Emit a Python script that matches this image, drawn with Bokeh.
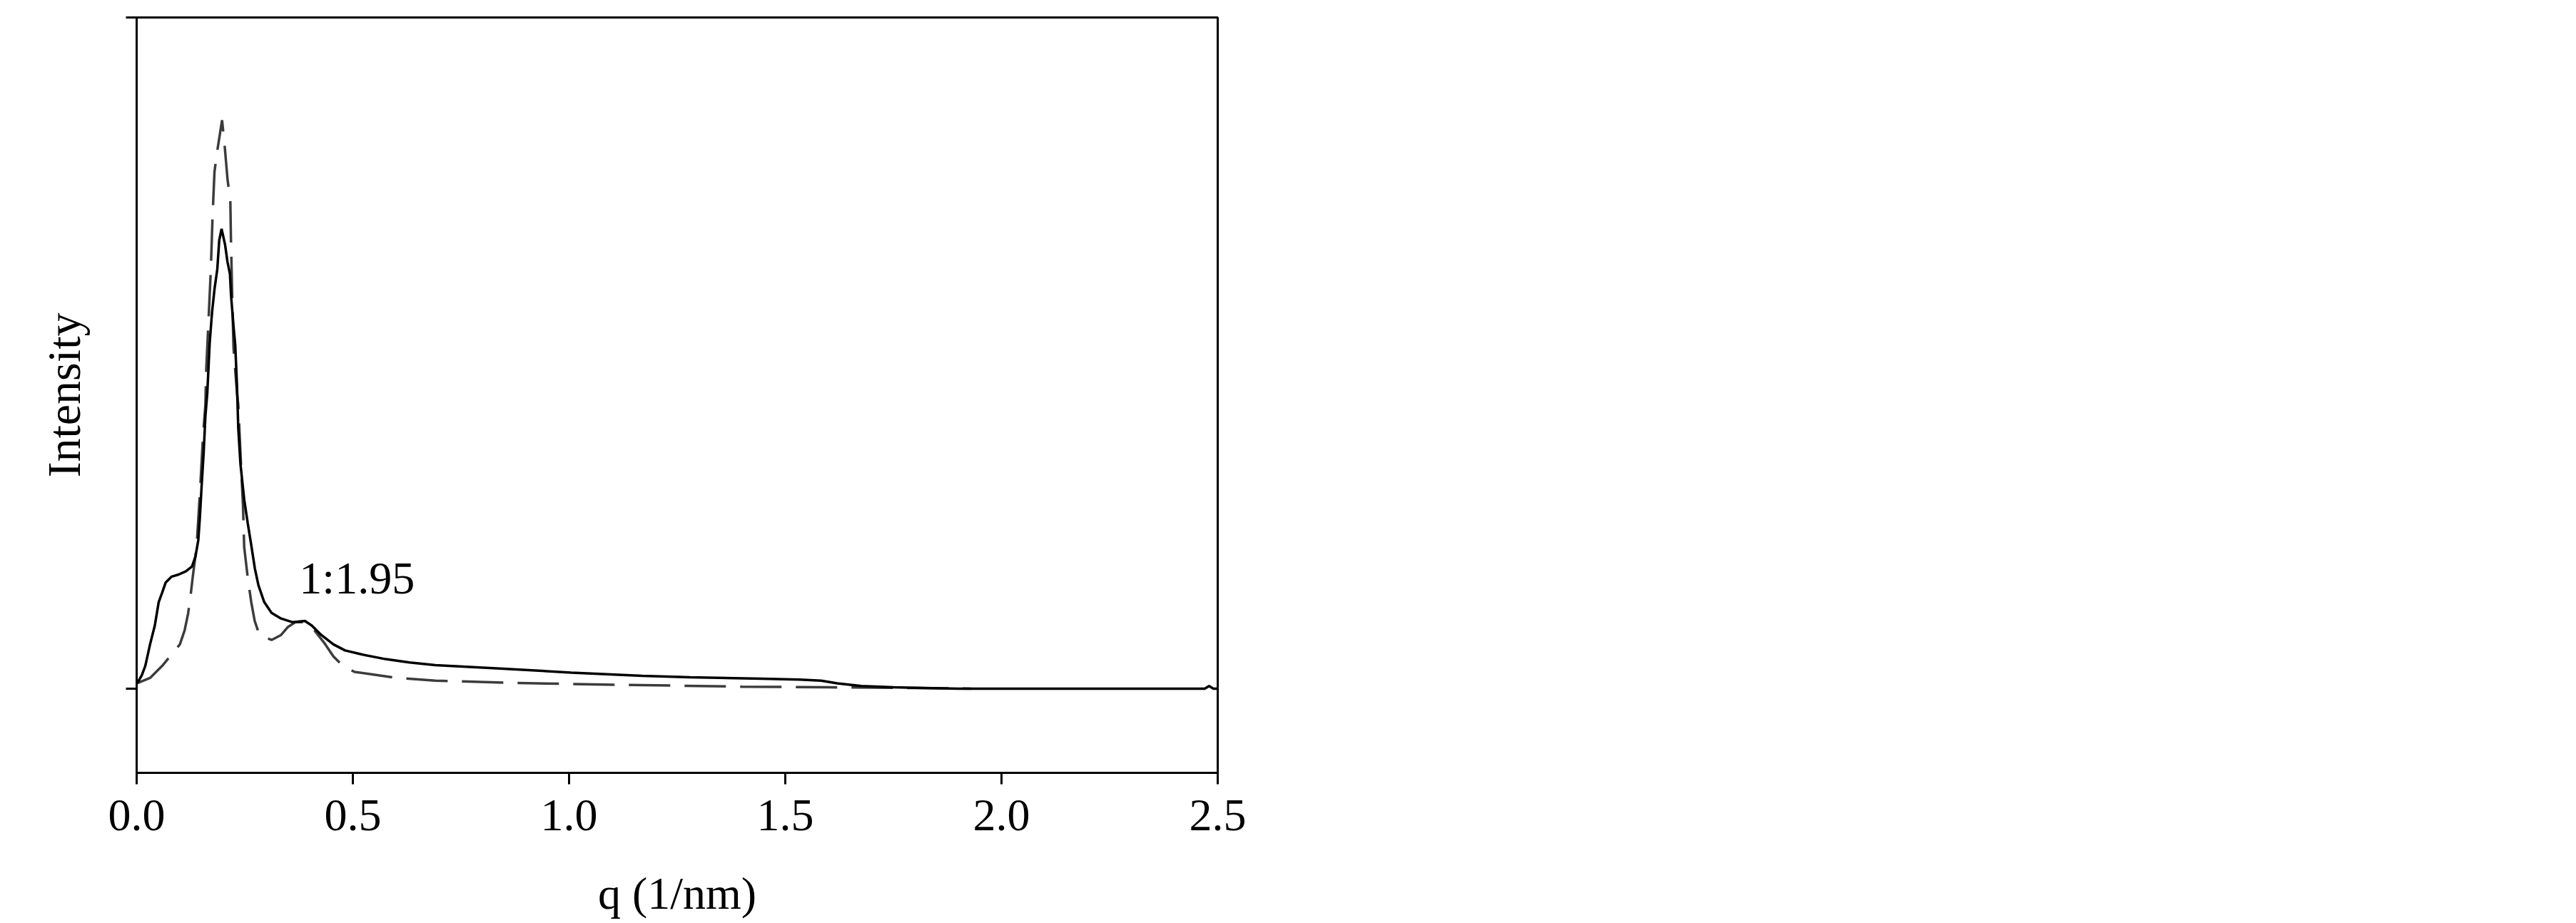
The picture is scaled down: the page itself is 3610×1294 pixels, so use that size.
from bokeh.plotting import figure
from bokeh.models import FixedTicker, PrintfTickFormatter, Range1d, ColumnDataSource
from bokeh.core.properties import value
from bokeh.embed import file_html
from bokeh.resources import INLINE

# ---- data ----
q_solid = [0.000, 0.004, 0.012, 0.020, 0.031, 0.042, 0.051, 0.059, 0.067, 0.081,
           0.097, 0.114, 0.128, 0.136, 0.1425, 0.146, 0.150, 0.155, 0.159, 0.1634,
           0.1689, 0.1744, 0.180, 0.1865, 0.191, 0.1964, 0.2046, 0.210, 0.2157, 0.2183,
           0.224, 0.228, 0.232, 0.235, 0.240, 0.2487, 0.257, 0.265, 0.2734, 0.2817,
           0.295, 0.312, 0.334, 0.361, 0.389, 0.405, 0.427, 0.455, 0.482, 0.521,
           0.576, 0.631, 0.691, 0.840, 1.005, 1.170, 1.280, 1.445, 1.533, 1.583,
           1.620, 1.676, 1.750, 1.900, 2.470, 2.480, 2.490, 2.500]
i_solid = [0.008, 0.011, 0.020, 0.034, 0.066, 0.094, 0.129, 0.143, 0.158, 0.167,
           0.170, 0.175, 0.182, 0.197, 0.221, 0.253, 0.299, 0.352, 0.406, 0.441,
           0.515, 0.561, 0.595, 0.625, 0.668, 0.685, 0.661, 0.636, 0.618, 0.586,
           0.540, 0.512, 0.452, 0.388, 0.335, 0.282, 0.246, 0.214, 0.179, 0.154,
           0.129, 0.113, 0.1045, 0.099, 0.101, 0.094, 0.080, 0.066, 0.057, 0.051,
           0.044, 0.039, 0.035, 0.030, 0.024, 0.019, 0.017, 0.015, 0.0135, 0.012,
           0.008, 0.004, 0.002, 0.000, 0.000, 0.004, 0.000, 0.000]

q_dashed = [0.000, 0.004, 0.031, 0.059, 0.081, 0.100, 0.111, 0.119, 0.125, 0.130,
            0.1386, 0.147, 0.1535, 0.159, 0.1606, 0.166, 0.1716, 0.1755, 0.180, 0.1854,
            0.1975, 0.203, 0.210, 0.2167, 0.218, 0.221, 0.224, 0.232, 0.235, 0.240,
            0.246, 0.2487, 0.257, 0.265, 0.273, 0.284, 0.312, 0.334, 0.350, 0.367,
            0.389, 0.411, 0.433, 0.455, 0.477, 0.504, 0.548, 0.603, 0.691, 0.850,
            1.000, 1.200, 1.400, 1.600, 1.800, 1.930]
i_dashed = [0.008, 0.009, 0.016, 0.034, 0.051, 0.066, 0.087, 0.112, 0.140, 0.168,
            0.211, 0.299, 0.377, 0.423, 0.471, 0.546, 0.625, 0.703, 0.770, 0.797,
            0.847, 0.813, 0.760, 0.725, 0.672, 0.583, 0.508, 0.441, 0.423, 0.352,
            0.271, 0.211, 0.165, 0.129, 0.101, 0.080, 0.0726, 0.080, 0.092, 0.099,
            0.099, 0.087, 0.069, 0.048, 0.034, 0.025, 0.021, 0.016, 0.012, 0.009,
            0.007, 0.005, 0.003, 0.002, 0.001, 0.000]

x_ticks = [0.0, 0.5, 1.0, 1.5, 2.0, 2.5]
y_ticks = [0.0, 1.0]
note_text = ["1:1.95"]
note_q = [0.376]
note_i = [0.165]

FONT = "Liberation Serif"

p = figure(width=1760, height=1280, output_backend="svg", toolbar_location=None,
           x_range=Range1d(0, 2.5), y_range=Range1d(-0.1254, 1.0),
           frame_width=1515, frame_height=1059,
           min_border_left=191, min_border_top=24, min_border_right=54, min_border_bottom=190)
p.background_fill_color = "white"
p.border_fill_color = "white"
p.outline_line_color = "black"
p.outline_line_width = 3
p.xgrid.visible = False
p.ygrid.visible = False

# x axis
p.xaxis.ticker = FixedTicker(ticks=x_ticks)
p.xaxis.formatter = PrintfTickFormatter(format="%.1f")
p.xaxis.minor_tick_line_color = None
p.xaxis.major_tick_in = 0
p.xaxis.major_tick_out = 16
p.xaxis.major_tick_line_width = 3
p.xaxis.axis_line_width = 3
p.xaxis.major_label_text_font = FONT
p.xaxis.major_label_text_font_size = "64px"
p.xaxis.major_label_text_color = "black"
p.xaxis.major_label_standoff = 22
p.xaxis.axis_label = "q (1/nm)"
p.xaxis.axis_label_text_font = FONT
p.xaxis.axis_label_text_font_size = "64px"
p.xaxis.axis_label_text_font_style = "normal"
p.xaxis.axis_label_text_color = "black"
p.xaxis.axis_label_standoff = 50

# y axis
p.yaxis.ticker = FixedTicker(ticks=y_ticks)
p.yaxis.major_label_overrides = {0: "", 1: ""}
p.yaxis.major_label_text_font_size = "1px"
p.yaxis.major_label_standoff = 0
p.yaxis.minor_tick_line_color = None
p.yaxis.major_tick_in = 0
p.yaxis.major_tick_out = 15
p.yaxis.major_tick_line_width = 3
p.yaxis.axis_line_width = 3
p.yaxis.axis_label = "Intensity"
p.yaxis.axis_label_text_font = FONT
p.yaxis.axis_label_text_font_size = "66px"
p.yaxis.axis_label_text_font_style = "normal"
p.yaxis.axis_label_text_color = "black"
p.yaxis.axis_label_standoff = 51

src_s = ColumnDataSource(dict(q=q_solid, i=i_solid))
src_d = ColumnDataSource(dict(q=q_dashed, i=i_dashed))
p.line("q", "i", source=src_d, line_color="#3c3c3c", line_width=3.5, line_dash="58 20")
p.line("q", "i", source=src_s, line_color="black", line_width=3.5)

src_t = ColumnDataSource(dict(q=note_q, i=note_i, t=note_text))
p.text("q", "i", text="t", source=src_t, text_font=value(FONT), text_font_size="64px",
       text_color="black", text_align="left", text_baseline="alphabetic")

open("out.html", "w").write(file_html(p, INLINE))
